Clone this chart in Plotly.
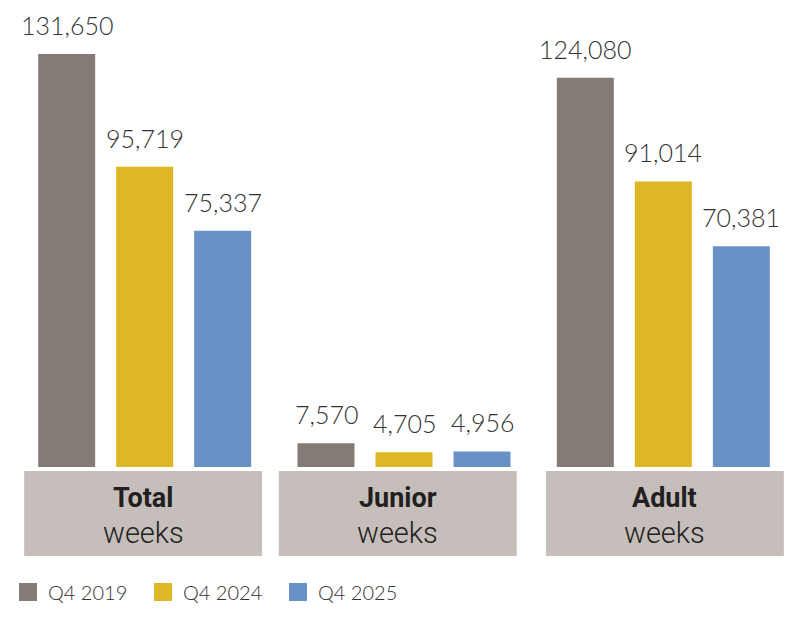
import plotly.graph_objects as go

categories = ["Total", "Junior", "Adult"]
series_names = ["Q4 2019", "Q4 2024", "Q4 2025"]
q4_2019 = [131650, 7570, 124080]
q4_2024 = [95719, 4705, 91014]
q4_2025 = [75337, 4956, 70381]
series_values = [q4_2019, q4_2024, q4_2025]
colors = ["#847B77", "#DDB725", "#6A91C6"]
box_color = "#C5BEBB"
text_color = "#231F20"

W, H = 800, 631
mt, mb, ml, mr = 10, 164, 15, 7
plot_h = H - mt - mb
plot_w = W - ml - mr
unit_px = plot_w / 3.0
pitch = 78 / unit_px
bar_w = 57 / unit_px
ymax = max(q4_2019) * plot_h / 413.0

def py_to_paper(py):
    return (H - mb - py) / plot_h

fig = go.Figure()
for j, (name, vals, col) in enumerate(zip(series_names, series_values, colors)):
    xs = [i + (j - 1) * pitch for i in range(len(categories))]
    fig.add_trace(go.Bar(x=xs, y=vals, width=bar_w, marker=dict(color=col, line=dict(width=0)),
                         name=name, showlegend=False, hoverinfo="skip"))
    for x, v in zip(xs, vals):
        fig.add_annotation(x=x, y=v, xref="x", yref="y", text=f"{v:,}", showarrow=False,
                           yanchor="bottom", yshift=12,
                           font=dict(family="Lato", size=25, color="#333333", weight=300))
    # legend proxies
    fig.add_trace(go.Scatter(x=[None], y=[None], mode="markers", name=name,
                             marker=dict(symbol="square", size=16, color=col,
                                         line=dict(color=col, width=2)),
                             showlegend=True))

box_offsets = [-0.006, -0.024, 0.006]
box_half = 0.4586
for i, cat in enumerate(categories):
    cx = i + box_offsets[i]
    fig.add_shape(type="rect", xref="x", yref="paper", x0=cx - box_half, x1=cx + box_half,
                  y0=py_to_paper(556), y1=py_to_paper(471), fillcolor=box_color,
                  line=dict(width=0), layer="below")
    fig.add_annotation(x=cx, xref="x", y=py_to_paper(498), yref="paper", text=f"<b>{cat}</b>",
                       showarrow=False, yanchor="middle",
                       font=dict(family="Roboto", size=27, color=text_color))
    fig.add_annotation(x=cx, xref="x", y=py_to_paper(533), yref="paper", text="weeks",
                       showarrow=False, yanchor="middle",
                       font=dict(family="Roboto", size=29, color=text_color, weight=300))

fig.update_layout(
    width=W, height=H,
    margin=dict(l=ml, r=mr, t=mt, b=mb, pad=0),
    paper_bgcolor="white", plot_bgcolor="white",
    xaxis=dict(range=[-0.5, 2.5], visible=False, fixedrange=True),
    yaxis=dict(range=[0, ymax], visible=False, fixedrange=True),
    showlegend=True,
    legend=dict(orientation="h", x=(8 - ml) / plot_w, xanchor="left",
                y=py_to_paper(592), yanchor="middle",
                font=dict(family="Lato", size=20, color="#333333", weight=300),
                entrywidth=90, itemclick=False, itemdoubleclick=False,
                bgcolor="rgba(0,0,0,0)"),
)

fig.write_html("out.html")
